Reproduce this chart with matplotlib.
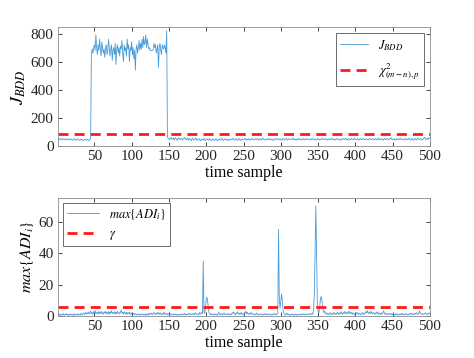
#!/usr/bin/env python

import matplotlib
matplotlib.use('Agg')
matplotlib.rcParams['font.family'] = 'Liberation Serif'
matplotlib.rcParams['mathtext.fontset'] = 'stix'
import matplotlib.pyplot as plt

import numpy as np

# J_BDD: before, during and after the attack window
j_before = [48, 52, 45, 50, 55, 47, 43, 50, 53, 46, 44, 49, 51, 42, 47, 52, 48, 45, 50, 44,
            41, 47, 53, 49, 46, 42, 48, 51, 45, 40, 44, 49, 46, 43, 38, 45, 50, 47, 41, 44,
            48, 42, 39, 46, 52]
j_attack = [650, 690, 660, 700, 720, 680, 790, 700, 650, 720, 680, 760, 690, 640, 740, 700, 660, 690, 630, 700,
            720, 650, 680, 760, 700, 640, 690, 720, 610, 680, 700, 650, 730, 580, 690, 720, 660, 700, 640, 710,
            690, 750, 660, 600, 720, 680, 700, 640, 760, 690, 720, 600, 700, 680, 740, 650, 700, 620, 680, 540,
            690, 720, 660, 700, 750, 680, 730, 690, 760, 700, 780, 720, 740, 790, 700, 760, 720, 690, 700, 680,
            680, 680, 680, 690, 730, 700, 720, 660, 690, 720, 560, 700, 730, 680, 650, 720, 700, 690, 720, 700,
            660, 820]
j_after = [60, 58, 52, 45, 55, 62, 48, 50, 57, 44, 52, 60, 47, 41, 53, 58, 49, 46, 55, 51,
           43, 50, 56, 62, 48, 45, 52, 57, 41, 49, 54, 46, 38, 50, 55, 47, 43, 51, 58, 44,
           40, 47, 53, 49, 36, 44, 50, 46, 42, 55, 48, 39, 45, 52, 47, 41, 49, 54, 43, 38,
           46, 51, 44, 40, 48, 53, 45, 37, 43, 50, 47, 42, 49, 56, 44, 39, 47, 52, 46, 41,
           50, 45, 38, 44, 52, 48, 43, 47, 55, 49, 42, 46, 53, 47, 40, 48, 54, 45, 39, 47,
           51, 46, 43, 49, 56, 48, 42, 50, 45, 53, 47, 41, 48, 55, 50, 44, 46, 52, 47, 43,
           49, 54, 46, 41, 48, 53, 45, 50, 57, 48, 43, 47, 52, 46, 42, 49, 55, 47, 44, 51,
           46, 40, 48, 53, 47, 43, 50, 56, 49, 44, 47, 52, 45, 41, 48, 54, 46, 43, 50, 55,
           48, 42, 47, 53, 49, 44, 46, 52, 58, 48, 43, 50, 47, 41, 49, 55, 46, 44, 51, 47,
           42, 48, 54, 47, 43, 50, 56, 48, 45, 49, 53, 46, 42, 48, 55, 49, 44, 47, 52, 46,
           41, 49, 55, 48, 43, 50, 46, 52, 57, 49, 44, 47, 53, 46, 42, 48, 54, 47, 43, 50,
           56, 48, 45, 51, 47, 42, 49, 55, 48, 44, 46, 52, 47, 41, 48, 54, 50, 45, 49, 56,
           48, 43, 47, 53, 46, 42, 49, 55, 47, 44, 50, 57, 49, 45, 48, 53, 46, 42, 49, 54,
           47, 43, 50, 56, 48, 44, 47, 52, 46, 41, 48, 55, 49, 45, 48, 53, 47, 42, 49, 54,
           46, 43, 50, 57, 49, 44, 47, 53, 46, 42, 48, 55, 48, 44, 50, 54, 47, 43, 49, 56,
           60, 48, 44, 47, 53, 46, 42, 49, 55, 47, 43, 50, 57, 49, 45, 48, 53, 46, 42, 49,
           55, 48, 44, 50, 56, 47, 43, 48, 54, 46, 42, 49, 55, 47, 44, 51, 57, 48, 45, 49,
           54, 47, 43, 50, 58, 62, 49, 45, 52, 56, 48, 60, 55]
chi2_threshold = 88

# max{ADI_i}
adi = [0.8, 1.2, 0.5, 1.5, 0.9, 0.3, 1.1, 1.8, 0.7, 0.4, 1.3, 0.9, 1.6, 0.6, 1.0, 0.5, 1.4, 0.8, 1.2, 0.6,
       1.0, 0.4, 1.7, 0.9, 0.6, 1.3, 0.8, 1.5, 0.7, 1.1, 0.5, 1.9, 1.2, 0.8, 1.4, 2.1, 1.0, 1.6, 2.4, 1.3,
       1.8, 2.6, 1.4, 2.0, 3.2, 1.6, 2.2, 1.1, 2.8, 1.9, 3.5, 1.4, 2.3, 1.7, 2.9, 1.2, 2.5, 1.8, 3.1, 1.5,
       2.2, 1.3, 2.7, 1.9, 3.0, 1.4, 2.4, 1.7, 2.9, 1.1, 2.6, 2.0, 3.3, 1.5, 2.3, 1.8, 2.8, 1.2, 2.5, 1.7,
       3.0, 1.6, 2.2, 1.4, 2.7, 3.8, 1.9, 2.4, 1.3, 2.8, 2.0, 1.5, 2.6, 1.1, 2.2, 1.7, 2.5, 1.0, 1.9, 1.4,
       2.3, 1.2, 1.8, 0.9, 1.5, 1.1, 0.7, 1.4, 0.9, 1.2, 0.6, 1.0, 1.5, 0.8, 1.3, 0.7, 1.1, 0.5, 1.6, 0.9,
       1.2, 0.6, 1.8, 1.0, 1.4, 2.0, 1.3, 0.8, 1.7, 2.3, 1.5, 1.0, 1.9, 1.2, 2.4, 1.6, 1.1, 2.2, 1.4, 0.9,
       1.7, 1.1, 2.5, 1.5, 1.0, 1.9, 1.3, 0.8, 1.6, 1.2, 0.7, 1.4, 0.9, 1.2, 0.6, 1.0, 1.5, 0.8, 1.3, 0.7,
       1.1, 0.5, 0.9, 1.3, 0.6, 1.0, 1.5, 0.8, 1.2, 0.7, 1.8, 1.1, 0.6, 1.4, 0.9, 1.3, 2.0, 1.2, 0.8, 1.5,
       1.0, 1.7, 1.2, 0.9, 2.2, 1.4, 1.0, 1.6, 1.1, 0.8, 2.3, 1.5, 1.2, 2.6, 1.8,
       35, 3.0, 1.5, 6.0, 10.5, 12.0, 9.0, 4.5, 2.0, 1.2, 0.9, 1.5, 0.8, 1.3, 1.0, 0.7, 1.4, 0.9, 1.2, 0.6,
       1.5, 2.4, 1.2, 0.9, 1.6, 1.1, 0.7, 1.3, 2.0, 1.0, 0.8, 1.4, 0.9, 1.7, 1.2, 0.6, 1.1, 1.5, 0.8, 2.2,
       1.8, 2.6, 1.3, 0.9, 2.0, 1.4, 2.8, 1.6, 1.0, 1.9, 1.2, 2.3, 1.5, 0.8, 1.7, 1.1, 2.1, 3.0, 1.4, 2.5,
       1.6, 1.0, 1.8, 1.2, 2.4, 1.7, 1.0, 1.5, 0.9, 1.3, 0.8, 1.4, 2.0, 1.1, 0.7, 1.2, 0.9, 1.5, 1.0, 0.6,
       1.1, 0.8, 1.4, 0.9, 1.6, 1.2, 0.7, 1.3, 0.9, 1.5, 1.0, 0.6, 1.2, 0.8, 1.4, 1.0, 1.7, 1.1, 0.8, 1.3, 1.9,
       55, 12, 5.0, 9.0, 14.0, 10.0, 4.0, 2.0, 1.0, 0.6, 1.2, 2.0, 0.8, 1.3, 0.9, 0.5, 1.1, 1.4, 0.8, 1.2,
       0.6, 1.0, 0.7, 1.3, 0.9, 0.5, 1.1, 0.8, 1.4, 1.0, 0.6, 1.2, 0.9, 1.5, 1.1, 0.7, 1.3, 1.0, 0.8, 1.4,
       1.1, 1.6, 1.2, 0.9, 1.5, 2.0, 1.2, 4.0,
       14, 42, 70, 40, 8, 3, 2, 5, 10, 12.5, 11, 6, 3, 2.2, 3.2, 1.5, 1.2, 2.0, 1.4, 0.9,
       1.3, 2.2, 1.6, 1.0, 1.8, 1.2, 2.4, 1.5, 1.0, 1.9, 1.3, 2.6, 1.7, 1.1, 2.0, 1.4, 2.8, 1.8, 1.2, 2.3,
       1.6, 3.0, 1.9, 1.3, 2.5, 1.7, 3.2, 2.0, 1.4, 2.6, 1.8, 1.2, 2.2, 1.5, 1.0, 1.9, 1.3, 2.4, 1.6, 1.1,
       2.0, 1.4, 0.9, 1.7, 1.2, 2.3, 1.5, 1.0, 1.9, 2.8, 2.0, 3.4, 2.2, 1.5, 2.6, 1.8, 3.0, 2.0, 1.4, 2.4,
       1.7, 1.1, 2.1, 1.5, 2.7, 1.8, 1.2, 2.2, 1.6, 1.0, 1.9, 1.3, 2.5, 3.2, 1.7, 1.1, 2.0, 1.4, 0.9, 1.6,
       1.1, 1.8, 1.3, 0.8, 1.5, 1.0, 1.7, 1.2, 0.7, 1.4, 0.9, 1.6, 1.1, 0.6, 1.3, 0.9, 1.5, 1.0, 1.8, 1.2,
       0.8, 1.4, 1.0, 1.7, 1.2, 0.7, 1.3, 0.9, 1.6, 1.1, 1.9, 1.3, 0.8, 1.5, 1.1, 1.8, 1.3, 2.2, 1.5, 1.0,
       1.7, 3.2, 2.0, 1.4, 1.1, 1.8, 1.3, 1.0, 1.6, 2.1, 1.4, 1.0, 1.7, 1.3, 2.0, 1.5]
gamma_threshold = 6

xticks = [50, 100, 150, 200, 250, 300, 350, 400, 450, 500]

if __name__ == '__main__':

    j_bdd = np.array(j_before + j_attack + j_after)
    adi = np.array(adi)
    t_j = np.arange(1, len(j_bdd) + 1)
    t_a = np.arange(1, len(adi) + 1)

    blue = '#4a9ad8'
    red = '#ff1a1a'
    gray = '#262626'
    dash = (3.6, 2.2)

    fig = plt.figure(figsize=(4.74, 3.58), dpi=100)
    ax1 = fig.add_axes([0.122, 0.592, 0.785, 0.332])
    ax2 = fig.add_axes([0.122, 0.117, 0.785, 0.330])

    # top: BDD statistic vs chi-square threshold
    ax1.plot(t_j, j_bdd, color=blue, linewidth=0.6, label=r'$J_{BDD}$')
    ax1.plot([1, 500], [chi2_threshold, chi2_threshold], color=red, linewidth=2.0,
             dashes=dash, label=r'$\chi^{2}_{(m-n),p}$')
    ax1.set_ylim((0, 845))
    ax1.set_yticks([0, 200, 400, 600, 800])
    ax1.set_ylabel(r'$J_{BDD}$', fontsize=13, labelpad=2)
    leg1 = ax1.legend(loc='upper right', fontsize=9, fancybox=False, framealpha=1,
                      edgecolor='#555555', handlelength=2.2, handletextpad=0.8,
                      borderpad=0.35, labelspacing=0.7, borderaxespad=0.5)

    # bottom: max ADI vs gamma
    ax2.plot(t_a, adi, color=blue, linewidth=0.6, label=r'$max\{ADI_i\}$')
    ax2.plot([1, 500], [gamma_threshold, gamma_threshold], color=red, linewidth=2.0,
             dashes=dash, label=r'$\gamma$')
    ax2.set_ylim((0, 75))
    ax2.set_yticks([0, 20, 40, 60])
    ax2.set_ylabel(r'$max\{ADI_i\}$', fontsize=11.5, labelpad=2)
    leg2 = ax2.legend(loc='upper left', fontsize=9, fancybox=False, framealpha=1,
                      edgecolor='#555555', handlelength=2.6, handletextpad=0.8,
                      borderpad=0.3, labelspacing=0.5, borderaxespad=0.4)

    for leg in (leg1, leg2):
        leg.get_frame().set_linewidth(0.6)

    # pretty
    for ax in (ax1, ax2):
        ax.set_xlim((1, 500))
        ax.set_xticks(xticks)
        ax.set_xlabel('time sample', fontsize=11.5, labelpad=1)
        ax.tick_params(direction='in', length=3, width=0.6, top=True, right=True,
                       labelsize=11, colors=gray, pad=3)
        for s in ax.spines.values():
            s.set_color('#8c8c8c')
            s.set_linewidth(0.6)

    fig.savefig('out.png', dpi=100)
